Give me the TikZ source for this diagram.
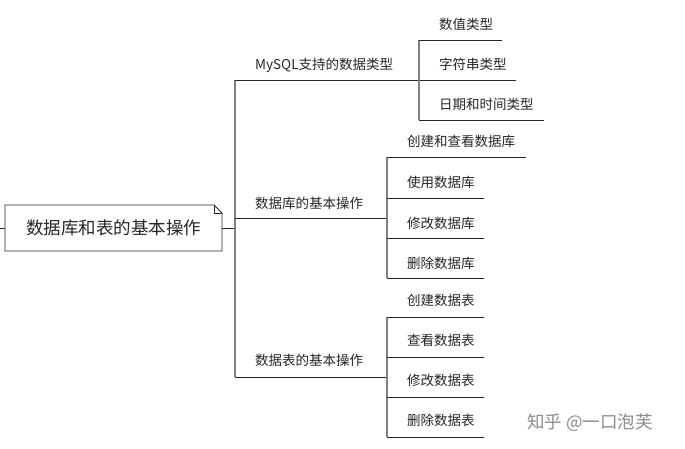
\documentclass[tikz,border=0pt]{standalone}
\usepackage{fontspec}
\setmainfont{Noto Sans CJK SC}
\begin{document}
\begin{tikzpicture}[x=1pt,y=-1pt,
  hl/.style={draw=black!85,line width=0.8pt},
  vl/.style={draw=black!50,line width=1.2pt},
  lbl/.style={font=\fontsize{13.5}{15}\selectfont,text=black!85,inner sep=0pt,anchor=base west}]
\useasboundingbox (0,0) rectangle (685,449);
\fill[white] (0,0) rectangle (685,449);
% root
\draw[hl] (5,205) -- (214,205) -- (222,213) -- (222,251) -- (5,251) -- cycle;
\draw[hl,line width=0.6pt] (214,205) -- (214,213) -- (222,213);
\node[font=\fontsize{17.5}{19}\selectfont,text=black!85,inner sep=0pt] (root) at (113.5,228) {数据库和表的基本操作};
\coordinate (rl) at (5,228); \coordinate (rl0) at (0,228);
\coordinate (rr) at (222,228); \coordinate (j) at (235,228);
\draw[hl] (rl0) -- (rl);
\draw[hl] (rr) -- (j);
\coordinate (v1) at (235,80); \coordinate (v2) at (235,377);
\draw[vl] (v1) -- (v2);
% branch 1
\coordinate (a0) at (235,80); \coordinate (a1) at (516,80);
\draw[hl] (a0) -- (a1);
\node[lbl] (ta) at (255,70) {MySQL支持的数据类型};
\draw[vl] (419,40) -- (419,120);
\draw[hl] (419,40) -- (502,40);
\draw[hl] (419,120) -- (544,120);
\node[lbl] (a1t) at (439,30) {数值类型};
\node[lbl] (a2t) at (439,70) {字符串类型};
\node[lbl] (a3t) at (439,110) {日期和时间类型};
% branch 2
\draw[hl] (235,218) -- (387,218);
\node[lbl] (tb) at (255,208) {数据库的基本操作};
\draw[vl] (387,157) -- (387,278);
\draw[hl] (387,157) -- (526,157);
\draw[hl] (387,198) -- (484,198);
\draw[hl] (387,238) -- (484,238);
\draw[hl] (387,278) -- (484,278);
\node[lbl] (b1) at (407,147) {创建和查看数据库};
\node[lbl] (b2) at (407,188) {使用数据库};
\node[lbl] (b3) at (407,228) {修改数据库};
\node[lbl] (b4) at (407,268) {删除数据库};
% branch 3
\draw[hl] (235,377) -- (387,377);
\node[lbl] (tc) at (255,365) {数据表的基本操作};
\draw[vl] (387,317) -- (387,437);
\draw[hl] (387,317) -- (484,317);
\draw[hl] (387,357) -- (484,357);
\draw[hl] (387,397) -- (484,397);
\draw[hl] (387,437) -- (484,437);
\node[lbl] (c1) at (407,305) {创建数据表};
\node[lbl] (c2) at (407,345) {查看数据表};
\node[lbl] (c3) at (407,385) {修改数据表};
\node[lbl] (c4) at (407,425) {删除数据表};
% watermark
\node[font=\fontsize{17.5}{19}\selectfont,text=black!45,inner sep=0pt,anchor=base west] (wm) at (527,428) {知乎 @一口泡芙};
\end{tikzpicture}
\end{document}
